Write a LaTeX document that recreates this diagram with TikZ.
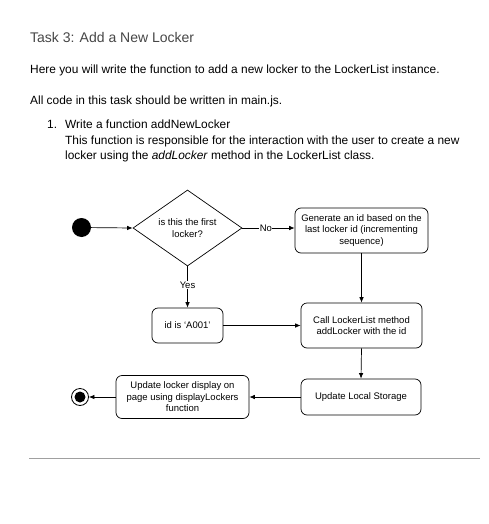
\documentclass[tikz,border=0pt]{standalone}
\usepackage{fontspec}
\setmainfont{Liberation Sans}
\usetikzlibrary{arrows.meta,shapes.geometric}
\definecolor{titlegray}{RGB}{70,70,70}
\definecolor{rulegray}{RGB}{160,160,160}
\tikzset{
  txt/.style={anchor=base west, inner sep=0pt, font=\fontsize{11.9}{14}\selectfont},
  act/.style={draw, rounded corners=6pt, line width=0.7pt, align=center, inner sep=1pt,
    font=\fontsize{9.5}{11.5}\selectfont},
  flow/.style={line width=0.7pt, -{Latex[length=5.5pt,width=4.5pt]}},
  lab/.style={fill=white, inner sep=0.5pt, font=\fontsize{9.5}{11}\selectfont}
}
\begin{document}
\begin{tikzpicture}[x=1pt,y=-1pt]
\useasboundingbox (0,0) rectangle (489,524);
% heading and text
\node[txt, font=\fontsize{14}{16}\selectfont, text=titlegray] (title) at (30,43) {Task 3: Add a New Locker};
\node[txt] (p1) at (30,73.5) {Here you will write the function to add a new locker to the LockerList instance.};
\node[txt] (p2) at (30,104.5) {All code in this task should be written in main.js.};
\node[txt] (num) at (47,128.5) {1.};
\node[txt] (i1) at (65,128.5) {Write a function addNewLocker};
\node[txt] (i2) at (65,144) {This function is responsible for the interaction with the user to create a new};
\node[txt] (i3) at (65,159.5) {locker using the \textit{addLocker} method in the LockerList class.};
% diagram
\node[circle, fill=black, minimum size=19pt, inner sep=0pt] (start) at (81.5,227.5) {};
\node[diamond, draw, line width=0.7pt, minimum width=109pt, minimum height=76pt, inner sep=0pt, aspect=1.45,
  align=center, font=\fontsize{9.5}{11.5}\selectfont] (dec) at (187.5,228) {is this the first\\locker?};
\node[act, minimum width=133pt, minimum height=45pt] (gen) at (361.5,230.5) {Generate an id based on the\\last locker id (incrementing\\sequence)};
\node[act, minimum width=71pt, minimum height=35pt] (first) at (187.5,325.5) {id is `A001'};
\node[act, minimum width=121pt, minimum height=45pt] (call) at (361.5,325.5) {Call LockerList method\\addLocker with the id};
\node[act, minimum width=120pt, minimum height=36pt] (store) at (361,397) {Update Local Storage};
\node[act, minimum width=133pt, minimum height=43pt] (disp) at (182.5,397) {Update locker display on\\page using displayLockers\\function};
\node[circle, draw, line width=0.8pt, minimum size=17pt, inner sep=0pt] (endo) at (80,397) {};
\node[circle, fill=black, minimum size=11pt, inner sep=0pt] (endi) at (endo) {};
% connectors
\draw[flow] (start) -- (dec.west);
\draw[flow] (dec.east) -- node[lab, pos=0.45] {No} (gen.west |- dec.east);
\draw[flow] (dec.south) -- node[lab, pos=0.45] {Yes} (first.north);
\draw[flow] (gen.south) -- (call.north);
\draw[flow] (first.east) -- (call.west |- first.east);
\draw[flow] (call.south) -- (store.north);
\draw[flow] (store.west) -- (disp.east |- store.west);
\draw[flow] (disp.west) -- (endo.east);
% rule
\coordinate (r1) at (29,458);
\coordinate (r2) at (480,458);
\draw[rulegray, line width=0.9pt] (r1) -- (r2);
\end{tikzpicture}
\end{document}
